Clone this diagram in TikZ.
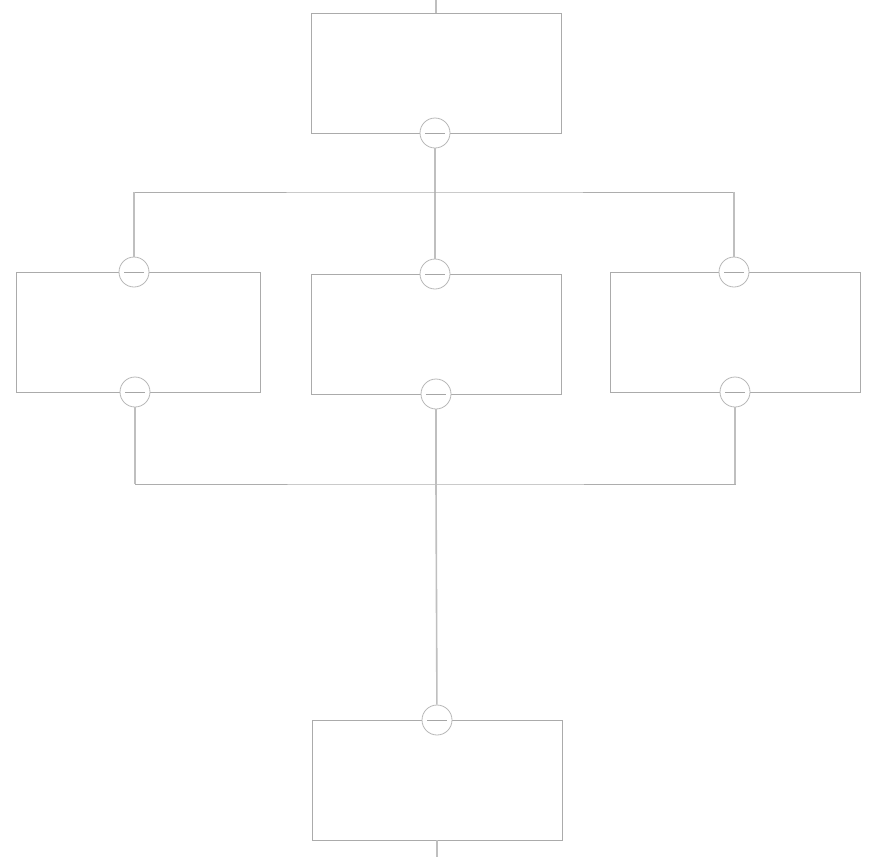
\documentclass[tikz,border=0pt]{standalone}
\usepackage{tikz}

\begin{document}
\begin{tikzpicture}[
            x=1pt, y=-1pt,
            box/.style={rectangle, draw=black!33, fill=white, line width=0.8pt, minimum width=250pt, minimum height=120pt, inner sep=0pt},
            port/.style={circle, draw=black!28, fill=white, line width=0.8pt, minimum size=30pt, inner sep=0pt,
                path picture={\draw[black!35, line width=0.8pt] ([xshift=-10pt]path picture bounding box.center) -- ([xshift=10pt]path picture bounding box.center);}},
            wire/.style={draw=black!25, line width=1.6pt},
            bus/.style={draw=black!32, line width=0.9pt}
        ]
            \useasboundingbox (0,0) rectangle (884,857);

            \node[box] (source) at (436,73) {};
            \node[box, minimum width=244pt] (left) at (138,332) {};
            \node[box] (middle) at (436,334) {};
            \node[box] (right) at (735,332) {};
            \node[box] (sink) at (437,780) {};

            \coordinate (entry) at (436,0);
            \coordinate (exit) at (437,857);
            \coordinate (split) at (435,192);
            \coordinate (merge) at (436,484);

            \draw[wire] (entry) -- (source.north);
            \draw[wire] (sink.south) -- (exit);

            \node[port] (sourceout) at (435,133) {};
            \node[port] (leftin) at (134,272) {};
            \node[port] (leftout) at (135,392) {};
            \node[port] (middlein) at (435,274) {};
            \node[port] (middleout) at (436,394) {};
            \node[port] (rightin) at (734,272) {};
            \node[port] (rightout) at (735,392) {};
            \node[port] (sinkin) at (437,720) {};

            \draw[wire] (sourceout) -- (split);
            \draw[wire] (split) -- (middlein);
            \draw[bus] (leftin.north) |- (split) -| (rightin.north);
            \draw[wire] (leftin.north) -- ++(0,-65);
            \draw[wire] (rightin.north) -- ++(0,-65);

            \draw[wire] (middleout) -- (merge);
            \draw[bus] (leftout.south) |- (merge) -| (rightout.south);
            \draw[wire] (leftout.south) -- ++(0,77);
            \draw[wire] (rightout.south) -- ++(0,77);
            \draw[wire] (merge) -- (sinkin);
        \end{tikzpicture}
\end{document}
